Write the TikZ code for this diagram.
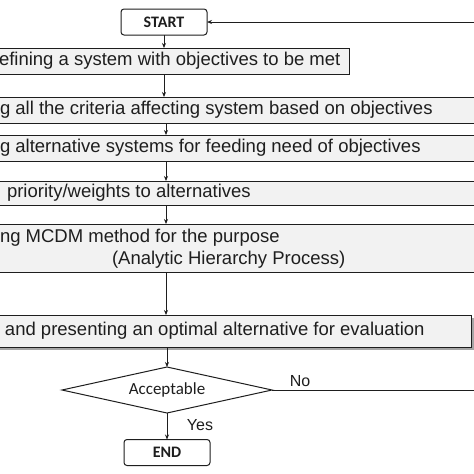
\documentclass[tikz,border=0pt]{standalone}
\usepackage{fontspec}
\setmainfont{Liberation Sans}
\newfontfamily\calf{Carlito}
\usetikzlibrary{shapes.geometric,arrows.meta}
\definecolor{boxfill}{HTML}{F2F2F2}
\definecolor{ink}{HTML}{1E1E1E}
\begin{document}
\begin{tikzpicture}[x=1pt,y=-1pt,
  every node/.style={inner sep=0pt,outer sep=0pt,text=ink},
  procbox/.style={draw=ink,line width=1pt,fill=boxfill,rectangle},
  termbox/.style={draw=ink,line width=1pt,fill=white,rounded corners=3pt,
    minimum width=86pt,minimum height=26pt,font=\calf\bfseries\fontsize{16}{18}\selectfont},
  boxtext/.style={font=\fontsize{18.5}{21}\selectfont,anchor=west},
  decision/.style={draw=ink,line width=1pt,fill=white,diamond,aspect=4.56,
    minimum width=210pt,minimum height=46pt,font=\calf\fontsize{17}{19}\selectfont},
  flow/.style={draw=ink,line width=1pt,-{Stealth[length=5pt,width=4pt]}},
  lab/.style={font=\fontsize{16}{18}\selectfont}]
\useasboundingbox (0,0) rectangle (474,474);
\clip (0,0) rectangle (474,474);
\fill[white] (0,0) rectangle (474,474);
\coordinate (col) at (166,0);
\coordinate (loop) at (480,0);
% terminals
\node[termbox] (start) at (164,22) {START};
\node[termbox] (end) at (167,452.5) {END};
% process boxes
\node[procbox,minimum width=399pt,minimum height=26pt] (b1) at (149.5,61) {};
\node[procbox,minimum width=560pt,minimum height=26pt] (b2) at (230,110) {};
\node[procbox,minimum width=560pt,minimum height=26pt] (b3) at (230,148) {};
\node[procbox,minimum width=560pt,minimum height=24pt] (b4) at (230,193) {};
\node[procbox,minimum width=560pt,minimum height=48pt] (b5) at (230,248) {};
\fill[gray!70] (-48,318) rectangle (474,350);
\node[procbox,minimum width=521pt,minimum height=32pt] (b6) at (210.5,331) {};
% texts
\node[boxtext] (t1) at (-1,61) {efining a system with objectives to be met};
\node[boxtext] (t2) at (0,110) {g all the criteria affecting system based on objectives};
\node[boxtext] (t3) at (0,148) {g alternative systems for feeding need of objectives};
\node[boxtext] (t4) at (7,193) {priority/weights to alternatives};
\node[boxtext] (t5a) at (0,238) {ng MCDM method for the purpose};
\node[boxtext] (t5b) at (112,260) {(Analytic Hierarchy Process)};
\node[boxtext] (t6) at (5,331) {and presenting an optimal alternative for evaluation};
% decision
\node[decision] (dia) at (167,390) {Acceptable};
\node[lab] (no) at (300,381) {No};
\node[lab] (yes) at (200,425) {Yes};
% connectors
\draw[flow] (start.south) -- (start.south |- b1.north);
\draw[flow] (start.south |- b1.south) -- (start.south |- b2.north);
\draw[flow] (col |- b2.south) -- (col |- b3.north);
\draw[flow] (col |- b3.south) -- (col |- b4.north);
\draw[flow] (col |- b4.south) -- (col |- b5.north);
\draw[flow] (col |- b5.south) -- (col |- b6.north);
\draw[flow] (dia.north |- b6.south) -- (dia.north);
\draw[flow] (dia.south) -- (end.north);
\draw[flow] (dia.east) -- (dia.east -| loop) -- (loop |- start.east) -- (start.east);
\end{tikzpicture}
\end{document}
